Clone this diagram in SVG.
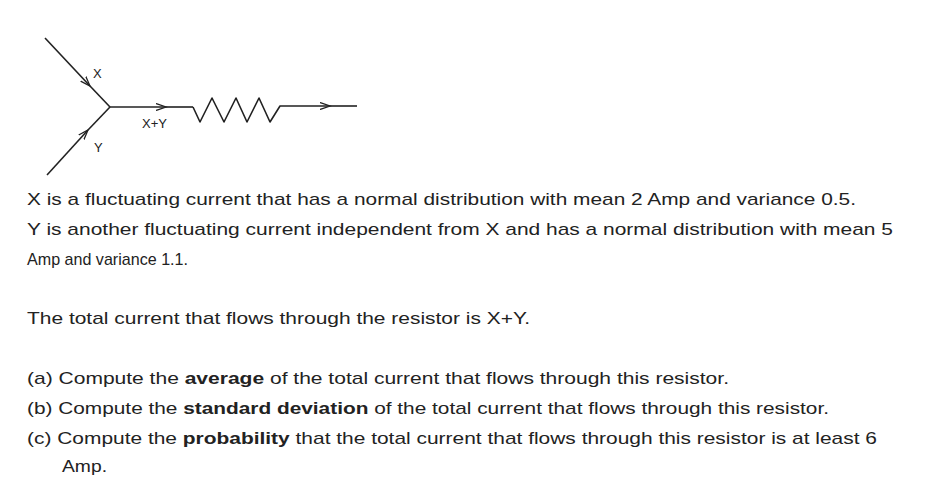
<svg xmlns="http://www.w3.org/2000/svg" width="937" height="497" viewBox="0 0 937 497">
<style>
.w{fill:none;stroke:#222;stroke-width:1.6;stroke-linejoin:round}
.l{font-family:"Liberation Sans",Arial,sans-serif;font-size:13px;fill:#222}
.t{font-family:"Liberation Sans",Arial,sans-serif;font-size:17px;fill:#222}
b,.b{font-weight:bold}
</style>
<defs><marker id="a" markerWidth="12" markerHeight="8" refX="10" refY="4" orient="auto" markerUnits="userSpaceOnUse"><path d="M0,0.5 L10,4 L0,7.5" fill="none" stroke="#222" stroke-width="1.3"/></marker></defs>
<rect width="937" height="497" fill="#fff"/>
<g id="circuit">
<g id="connectors">
<path class="w" d="M45,38 L90,86" marker-end="url(#a)"/><path class="w" d="M90,86 L110,107"/>
<path class="w" d="M47,175 L88,130" marker-end="url(#a)"/><path class="w" d="M88,130 L110,107"/>
<path class="w" d="M110,107 L166,107" marker-end="url(#a)"/><path class="w" d="M166,107 L193,107"/>
<path class="w" d="M193,107 L200,122 L212,98 L224,122 L236,98 L247,122 L259,98 L270,122 L280,106 L330,106" marker-end="url(#a)"/>
<path class="w" d="M330,106 L357,106"/>
</g>
<text class="l" x="93" y="78">X</text>
<text class="l" x="94" y="152">Y</text>
<text class="l" x="142" y="128">X+Y</text>
</g>
<g id="text">
<text class="t" x="27" y="205" textLength="829" lengthAdjust="spacingAndGlyphs">X is a fluctuating current that has a normal distribution with mean 2 Amp and variance 0.5.</text>
<text class="t" x="27" y="235" textLength="866" lengthAdjust="spacingAndGlyphs">Y is another fluctuating current independent from X and has a normal distribution with mean 5</text>
<text class="t" x="27" y="265" textLength="161" lengthAdjust="spacingAndGlyphs">Amp and variance 1.1.</text>
<text class="t" x="27" y="324" textLength="503" lengthAdjust="spacingAndGlyphs">The total current that flows through the resistor is X+Y.</text>
<text class="t" x="27" y="384" textLength="702" lengthAdjust="spacingAndGlyphs">(a) Compute the <tspan class="b">average</tspan> of the total current that flows through this resistor.</text>
<text class="t" x="27" y="414" textLength="802" lengthAdjust="spacingAndGlyphs">(b) Compute the <tspan class="b">standard deviation</tspan> of the total current that flows through this resistor.</text>
<text class="t" x="27" y="444" textLength="850" lengthAdjust="spacingAndGlyphs">(c) Compute the <tspan class="b">probability</tspan> that the total current that flows through this resistor is at least 6</text>
<text class="t" x="62" y="472" textLength="45" lengthAdjust="spacingAndGlyphs">Amp.</text>
</g>
</svg>
